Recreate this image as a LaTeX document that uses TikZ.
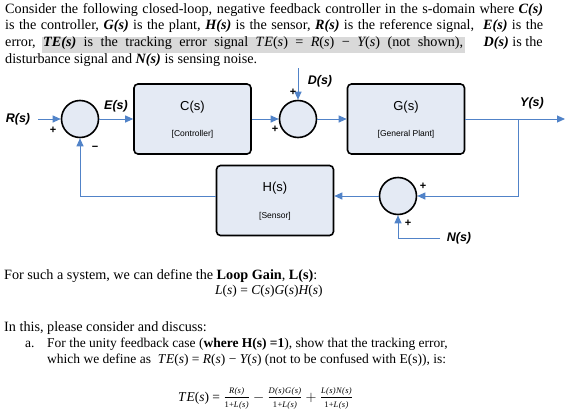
\documentclass[tikz,border=0pt]{standalone}
\usepackage{fontspec}
\setmainfont{Liberation Serif}
\setsansfont{Liberation Sans}
\usetikzlibrary{calc, arrows.meta}

\definecolor{sigblue}{HTML}{5183C8}
\definecolor{boxfill}{HTML}{E4EAF4}
\definecolor{hlgray}{HTML}{D9D9D9}

\newcommand{\bfit}[1]{\textbf{\textit{#1}}}
\newcommand{\mth}[1]{{\addfontfeature{LetterSpace=6}\itshape #1}}
\newcommand{\frtxt}[1]{\mbox{\fontsize{8.5}{8.5}\selectfont\addfontfeature{LetterSpace=4}#1}}
\newcommand{\smallfr}[2]{\frac{\raisebox{1.5pt}{\frtxt{#1}}}{\raisebox{-1.5pt}{\frtxt{#2}}}}
\newcommand{\jline}[2]{\makebox[#1][s]{\spaceskip=.25em plus 2em minus .12em #2}}

\begin{document}
\begin{tikzpicture}[x=1pt,y=-1pt,
    txt/.style={anchor=base west, inner sep=0pt, font=\fontsize{14.2}{17}\selectfont},
    itm/.style={anchor=base west, inner sep=0pt, font=\fontsize{13.5}{16}\selectfont},
    blk/.style={draw=black, line width=1.6pt, rounded corners=4pt, fill=boxfill,
      minimum width=117pt, minimum height=70pt, inner sep=0pt},
    sumnode/.style={circle, draw=black, line width=1.6pt, fill=boxfill,
      minimum size=37pt, inner sep=0pt},
    sig/.style={sigblue, line width=1pt, -{Triangle[length=8pt,width=7pt]}},
    lbl/.style={inner sep=0pt, font=\sffamily\bfseries\itshape\fontsize{12.5}{12.5}\selectfont},
    sgn/.style={inner sep=0pt, font=\sffamily\bfseries\fontsize{11}{11}\selectfont},
    ttl/.style={inner sep=0pt, font=\sffamily\fontsize{13}{13}\selectfont},
    sub/.style={inner sep=0pt, font=\sffamily\fontsize{8.5}{8.5}\selectfont}]
  \useasboundingbox (0,0) rectangle (584,418);

  % the question text
  \fill[hlgray] (42,37) rectangle (465,53);
  \node[txt] (l1) at (5,13) {\jline{538pt}{Consider the following closed-loop, negative feedback controller in the s-domain where \bfit{C(s)}}};
  \node[txt] (l2) at (5,29.5) {\jline{538pt}{is the controller, \bfit{G(s)} is the plant, \bfit{H(s)} is the sensor, \bfit{R(s)} is the reference signal, \ \bfit{E(s)} is the}};
  \node[txt] (l3a) at (5,46.5) {error,};
  \node[txt] (l3b) at (43,46.5) {\jline{420pt}{\bfit{TE(s)} is the tracking error signal \mth{TE}(\mth{s}) = \mth{R}(\mth{s}) − \mth{Y}(\mth{s}) (not shown),}};
  \node[txt, anchor=base east] (l3c) at (543,46.5) {\bfit{D(s)} is the};
  \node[txt] (l4) at (5,63) {disturbance signal and \bfit{N(s)} is sensing noise.};

  % block diagram
  \node[sumnode] (s1) at (80,119) {};
  \node[blk] (cbox) at (192.5,119) {};
  \node[sumnode] (s2) at (298,119) {};
  \node[blk] (gbox) at (406,119) {};
  \node[blk] (hbox) at (275,200.5) {};
  \node[sumnode] (s3) at (398,196) {};

  \node[ttl] at (192.5,107) {C(s)};
  \node[sub] at (192.5,134) {[Controller]};
  \node[ttl] at (406,107) {G(s)};
  \node[sub] at (406,134) {[General Plant]};
  \node[ttl] at (275,188) {H(s)};
  \node[sub] at (275,216) {[Sensor]};

  \coordinate (rin) at (38,119);
  \coordinate (din) at (298,68);
  \coordinate (tap) at (518,119);
  \coordinate (yout) at (565,119);
  \coordinate (nin) at (440,238);

  \draw[sig] (rin) -- (s1);
  \draw[sig] (s1) -- (cbox);
  \draw[sig] (cbox) -- (s2);
  \draw[sig] (din) -- (s2);
  \draw[sig] (s2) -- (gbox);
  \draw[sig] (gbox) -- (yout);
  \draw[sig] (tap) |- (s3.east);
  \draw[sig] (nin) -| (s3.south);
  \draw[sig] (s3) -- (s3 -| hbox.east);
  \draw[sig] (s3 -| hbox.west) -| (s1.south);

  \node[lbl] (rlbl) at (18,119) {R(s)};
  \node[lbl] (elbl) at (116,106) {E(s)};
  \node[lbl] (dlbl) at (320,81) {D(s)};
  \node[lbl] (ylbl) at (532,103) {Y(s)};
  \node[lbl] (nlbl) at (459,238) {N(s)};

  \node[sgn] at (53,130) {+};
  \node[sgn] at (95,148) {−};
  \node[sgn] at (293,92) {+};
  \node[sgn] at (275,129) {+};
  \node[sgn] at (423,186) {+};
  \node[sgn] at (408,223) {+};

  % the text below
  \node[txt] (p1) at (4,279) {For such a system, we can define the \textbf{Loop Gain}, \textbf{L(s)}:};
  \node[itm] (p2) at (215,294.5) {\mth{L}(\mth{s}) = \mth{C}(\mth{s})\mth{G}(\mth{s})\mth{H}(\mth{s})};
  \node[txt] (p3) at (4,331) {In this, please consider and discuss:};
  \node[itm] (qa) at (25,347) {a.};
  \node[itm] (q1) at (47,347) {For the unity feedback case (\textbf{where H(s) =1}), show that the tracking error,};
  \node[itm] (q2) at (47,363) {which we define as \ \mth{TE}(\mth{s}) = \mth{R}(\mth{s}) − \mth{Y}(\mth{s}) (not to be confused with E(s)), is:};
  \node[itm] (eq) at (178,401) {\mth{TE}(\mth{s}) = $\smallfr{\itshape R(s)}{1+\itshape L(s)} - \smallfr{\itshape D(s)G(s)}{1+\itshape L(s)} + \smallfr{\itshape L(s)N(s)}{1+\itshape L(s)}$};
\end{tikzpicture}
\end{document}
